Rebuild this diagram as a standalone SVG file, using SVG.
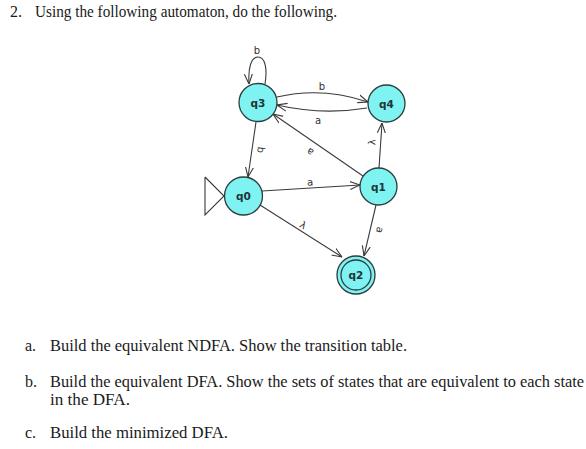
<svg xmlns="http://www.w3.org/2000/svg" width="586" height="449" viewBox="0 0 586 449">
<style>
.txt{font-family:"Liberation Serif","Times New Roman",serif;font-size:16px;fill:#1a1a1a}
.node circle{fill:#7ff2f2;stroke:#2b3d3d;stroke-width:1.3}
.node text{font-family:"DejaVu Sans","Liberation Sans",sans-serif;font-size:10.5px;font-weight:bold;fill:#1e3535;text-anchor:middle}
.edge{fill:none;stroke:#3a3a3a;stroke-width:1.1}
.lbl{font-family:"DejaVu Sans","Liberation Sans",sans-serif;font-size:10px;fill:#333;text-anchor:middle}
</style>
<defs>
<marker id="arr" viewBox="0 0 10 10" refX="10" refY="5" markerWidth="10" markerHeight="10" markerUnits="userSpaceOnUse" orient="auto">
<path d="M0,1 L10,5 L0,9" fill="none" stroke="#3a3a3a" stroke-width="1.1"/>
</marker>
</defs>
<rect width="586" height="449" fill="#fff"/>
<text class="txt" x="10" y="17" font-size="15">2.</text>
<text class="txt" x="35" y="17" font-size="15" textLength="302" lengthAdjust="spacingAndGlyphs">Using the following automaton, do the following.</text>
<text class="txt" x="25" y="351">a.</text>
<text class="txt" x="50" y="351" textLength="357" lengthAdjust="spacingAndGlyphs">Build the equivalent NDFA. Show the transition table.</text>
<text class="txt" x="25" y="387">b.</text>
<text class="txt" x="50" y="387" textLength="534" lengthAdjust="spacingAndGlyphs">Build the equivalent DFA. Show the sets of states that are equivalent to each state</text>
<text class="txt" x="50" y="405" textLength="80" lengthAdjust="spacingAndGlyphs">in the DFA.</text>
<text class="txt" x="25" y="438">c.</text>
<text class="txt" x="50" y="438" textLength="178" lengthAdjust="spacingAndGlyphs">Build the minimized DFA.</text>
<g id="connectors">
<path class="edge" d="M265,84 C268,66 264,57 258,57 C251,57 248,68 249,84" marker-end="url(#arr)"/>
<text class="lbl" x="257" y="54">b</text>
<path class="edge" d="M277,97 Q322,86.5 368,102" marker-end="url(#arr)"/>
<text class="lbl" x="322" y="90">b</text>
<path class="edge" d="M367,108 Q322,115.5 277,105" marker-end="url(#arr)"/>
<text class="lbl" x="318" y="124">a</text>
<path class="edge" d="M256,122 L248,177" marker-end="url(#arr)"/>
<text class="lbl" transform="translate(261,150) rotate(98)" y="3.5">b</text>
<path class="edge" d="M363,176 L273,114" marker-end="url(#arr)"/>
<text class="lbl" transform="translate(310,152) rotate(-146)" y="3.5">a</text>
<path class="edge" d="M262,191 L360,185" marker-end="url(#arr)"/>
<text class="lbl" transform="translate(310,182) rotate(-3.5)" y="3.5">a</text>
<path class="edge" d="M260,205 L342,257" marker-end="url(#arr)"/>
<text class="lbl" transform="translate(303,225) rotate(32)" y="3.5">λ</text>
<path class="edge" d="M379,168 L382,123" marker-end="url(#arr)"/>
<text class="lbl" transform="translate(372,142) rotate(-86)" y="3.5">λ</text>
<path class="edge" d="M376,205 L364,256" marker-end="url(#arr)"/>
<text class="lbl" transform="translate(380,230) rotate(103)" y="3.5">a</text>
<polyline fill="none" stroke="#3a3a3a" stroke-width="1.1" points="205,177 224,196 205,215 205,177"/>
</g>
<g id="q3" class="node"><circle cx="258" cy="102.5" r="19"/><text x="258" y="106.5">q3</text></g>
<g id="q4" class="node"><circle cx="386.5" cy="103.5" r="18.5"/><text x="386.5" y="107.5">q4</text></g>
<g id="q0" class="node"><circle cx="243.5" cy="196" r="19"/><text x="243.5" y="200">q0</text></g>
<g id="q1" class="node"><circle cx="378.5" cy="186.5" r="18.5"/><text x="378.5" y="190.5">q1</text></g>
<g id="q2" class="node"><circle cx="356" cy="275" r="19"/><circle cx="356" cy="275" r="15"/><text x="356" y="279">q2</text></g>
</svg>
